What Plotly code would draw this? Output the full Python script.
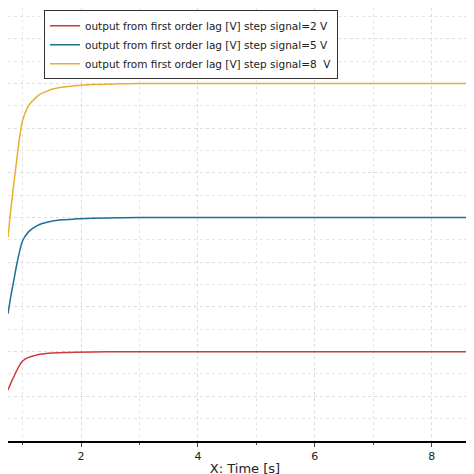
import plotly.graph_objects as go

time_s = [0.75, 0.8, 0.85, 0.9, 0.95, 1.0, 1.1, 1.2, 1.3, 1.4, 1.5, 1.7, 1.9, 2.2, 2.6, 3.0, 9.0]
out_2v = [1.14, 1.30, 1.44, 1.58, 1.70, 1.79, 1.87, 1.91, 1.94, 1.956, 1.968, 1.98, 1.988, 1.994, 1.998, 2.0, 2.0]
out_5v = [2.85, 3.25, 3.6, 3.95, 4.25, 4.48, 4.68, 4.78, 4.85, 4.89, 4.92, 4.95, 4.97, 4.985, 4.995, 5.0, 5.0]
out_8v = [4.56, 5.2, 5.76, 6.3, 6.8, 7.17, 7.5, 7.65, 7.76, 7.82, 7.87, 7.92, 7.95, 7.976, 7.992, 8.0, 8.0]
names = ["output from first order lag [V] step signal=2 V",
         "output from first order lag [V] step signal=5 V",
         "output from first order lag [V] step signal=8  V"]
colors = ["#d03a3a", "#1f6f93", "#e8b030"]

fig = go.Figure()
for y, n, c in zip([out_2v, out_5v, out_8v], names, colors):
    fig.add_trace(go.Scatter(x=time_s, y=y, mode="lines", name=n, line=dict(color=c, width=1.5, shape="spline")))

grid = dict(showgrid=True, gridcolor="#dcdcdc", griddash="dot", gridwidth=1)
fig.update_layout(
    width=474, height=474, margin=dict(l=0, r=0, t=0, b=41),
    plot_bgcolor="white", paper_bgcolor="white",
    font=dict(family="DejaVu Sans", size=11, color="#222"),
    legend=dict(x=0.076, y=0.995, xanchor="left", yanchor="top", bgcolor="white",
                bordercolor="#333", borderwidth=1, font=dict(size=10.5), tracegroupgap=0),
    xaxis=dict(range=[0.75, 8.86], tickvals=[2, 4, 6, 8], showline=True, linecolor="black", linewidth=2,
               ticks="outside", ticklen=4, automargin=False, title=dict(text="X: Time [s]", standoff=2),
               minor=dict(dtick=1, showgrid=True, gridcolor="#e6e6e6", griddash="dot", ticks="outside", ticklen=2),
               zeroline=False, **grid),
    yaxis=dict(range=[0, 9.69], dtick=1, showticklabels=False, zeroline=False, automargin=False,
               minor=dict(dtick=0.5, showgrid=True, gridcolor="#e6e6e6", griddash="dot"), **grid),
)
fig.write_html("out.html")
